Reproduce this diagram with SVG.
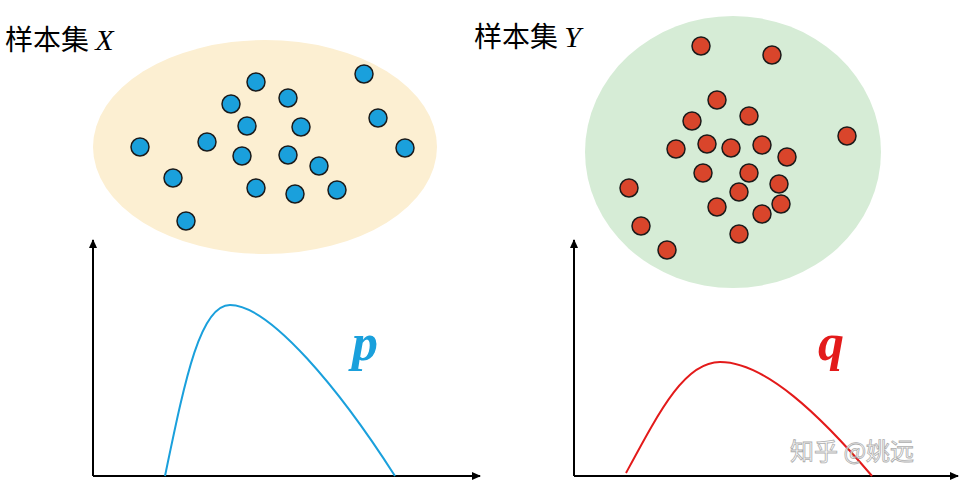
<svg xmlns="http://www.w3.org/2000/svg" width="966" height="488" viewBox="0 0 966 488">
<defs>
<marker id="ah" markerWidth="10" markerHeight="10" refX="8" refY="5" orient="auto" markerUnits="userSpaceOnUse"><path d="M0,1 L9,5 L0,9 Z" fill="#000"/></marker>
<style>
.b{fill:#1aa0dc;stroke:#1a1a1a;stroke-width:1.5}
.r{fill:#d9452b;stroke:#1a1a1a;stroke-width:1.5}
.ax{stroke:#000;stroke-width:2;fill:none}
.cjk{font-family:"Noto Sans CJK SC","Noto Sans",sans-serif;font-size:28px}
.it{font-family:"Liberation Serif",serif;font-style:italic}
</style>
</defs>
<rect width="966" height="488" fill="#fff"/>
<g id="setX">
<ellipse cx="265" cy="147" rx="172" ry="107" fill="#fcefd2"/>
<g>
<circle class="b" cx="140" cy="147" r="9"/><circle class="b" cx="173" cy="178" r="9"/><circle class="b" cx="186" cy="221" r="9"/><circle class="b" cx="207" cy="142" r="9"/><circle class="b" cx="231" cy="104" r="9"/><circle class="b" cx="256" cy="82" r="9"/><circle class="b" cx="247" cy="126" r="9"/><circle class="b" cx="242" cy="156" r="9"/><circle class="b" cx="256" cy="188" r="9"/><circle class="b" cx="288" cy="98" r="9"/><circle class="b" cx="301" cy="127" r="9"/><circle class="b" cx="288" cy="155" r="9"/><circle class="b" cx="319" cy="166" r="9"/><circle class="b" cx="295" cy="194" r="9"/><circle class="b" cx="337" cy="190" r="9"/><circle class="b" cx="364" cy="74" r="9"/><circle class="b" cx="378" cy="118" r="9"/><circle class="b" cx="405" cy="148" r="9"/>
</g>
<text x="5" y="50" class="cjk">样本集 <tspan class="it" font-size="30">X</tspan></text>
</g>
<g id="setY">
<ellipse cx="733" cy="152" rx="148" ry="136" fill="#d6ecd6"/>
<g>
<circle class="r" cx="701" cy="46" r="9"/><circle class="r" cx="772" cy="55" r="9"/><circle class="r" cx="717" cy="100" r="9"/><circle class="r" cx="692" cy="121" r="9"/><circle class="r" cx="749" cy="116" r="9"/><circle class="r" cx="847" cy="136" r="9"/><circle class="r" cx="676" cy="149" r="9"/><circle class="r" cx="707" cy="144" r="9"/><circle class="r" cx="731" cy="148" r="9"/><circle class="r" cx="762" cy="145" r="9"/><circle class="r" cx="787" cy="157" r="9"/><circle class="r" cx="703" cy="173" r="9"/><circle class="r" cx="749" cy="173" r="9"/><circle class="r" cx="779" cy="184" r="9"/><circle class="r" cx="629" cy="188" r="9"/><circle class="r" cx="739" cy="192" r="9"/><circle class="r" cx="717" cy="207" r="9"/><circle class="r" cx="762" cy="214" r="9"/><circle class="r" cx="781" cy="204" r="9"/><circle class="r" cx="641" cy="226" r="9"/><circle class="r" cx="739" cy="234" r="9"/><circle class="r" cx="667" cy="250" r="9"/>
</g>
<text x="474" y="47" class="cjk">样本集 <tspan class="it" font-size="30">Y</tspan></text>
</g>
<g id="plotP">
<path class="ax" d="M93,476 V240" marker-end="url(#ah)"/>
<path class="ax" d="M93,476 H480" marker-end="url(#ah)"/>
<path d="M165,476 C185,380 200,305 230,305 C270,305 340,390 395,476" fill="none" stroke="#1aa0dc" stroke-width="2"/>
<text x="352" y="360" class="it" font-size="52" fill="#1aa0dc" font-weight="bold">p</text>
</g>
<g id="plotQ">
<path class="ax" d="M574,476 V240" marker-end="url(#ah)"/>
<path class="ax" d="M574,476 H958" marker-end="url(#ah)"/>
<path d="M626,473 C660,410 685,362 720,362 C765,362 820,415 872,476" fill="none" stroke="#e31a1a" stroke-width="2"/>
<text x="818" y="360" class="it" font-size="52" fill="#e31a1a" font-weight="bold">q</text>
</g>
<text x="790" y="460" font-family="Noto Sans CJK SC,sans-serif" font-size="24" fill="#fff" stroke="#999" stroke-width="0.8" opacity="0.8">知乎 @姚远</text>
</svg>
